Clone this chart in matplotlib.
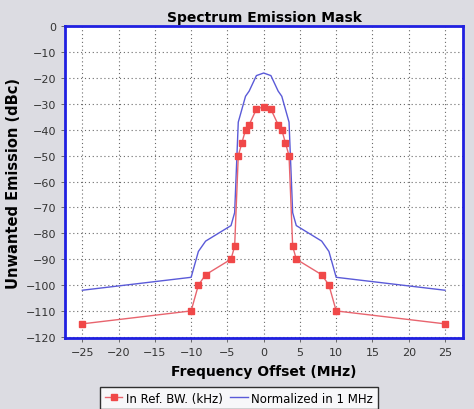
import matplotlib
matplotlib.use('Agg')
import matplotlib.pyplot as plt

# frequency offsets (MHz)
freq = [-25, -10, -9, -8, -4.5, -4, -3.5, -3, -2.5, -2, -1, 0,
        1, 2, 2.5, 3, 3.5, 4, 4.5, 8, 9, 10, 25]
# emission in reference bandwidth (dBc)
ref_bw = [-115, -110, -100, -96, -90, -85, -50, -45, -40, -38, -32, -31,
          -32, -38, -40, -45, -50, -85, -90, -96, -100, -110, -115]
# normalized to 1 MHz (dBc)
norm_1mhz = [-102, -97, -87, -83, -77, -72, -37, -32, -27, -25, -19, -18,
             -19, -25, -27, -32, -37, -72, -77, -83, -87, -97, -102]

xticks = [-25, -20, -15, -10, -5, 0, 5, 10, 15, 20, 25]
yticks = list(range(0, -121, -10))

bg = '#dcdce2'
fig = plt.figure(figsize=(4.74, 4.10), dpi=100, facecolor=bg)
ax = fig.add_axes([0.137, 0.173, 0.84, 0.76])
ax.set_facecolor('white')

ax.plot(freq, ref_bw, color='#e8646e', lw=1.0, marker='s', ms=5,
        mfc='#f04848', mec='#f04848', label='In Ref. BW. (kHz)', zorder=3)
ax.plot(freq, norm_1mhz, color='#5a5ad8', lw=1.0,
        label='Normalized in 1 MHz', zorder=2)

ax.set_xlim(-27.4, 27.5)
ax.set_ylim(-120.5, 0)
ax.set_xticks(xticks)
ax.set_yticks(yticks)
ax.grid(True, color='#6a6a6a', linestyle=(0, (1, 2.5)), lw=0.8)
for s in ax.spines.values():
    s.set_color('#2020e0')
    s.set_linewidth(2)
ax.tick_params(labelsize=8, colors='#555555', length=3, width=0.6,
               labelcolor='#333333')

ax.set_title('Spectrum Emission Mask', fontsize=10, fontweight='heavy', pad=4)
ax.set_xlabel('Frequency Offset (MHz)', fontsize=10, fontweight='heavy', labelpad=5)
ax.set_ylabel('Unwanted Emission (dBc)', fontsize=10.5, fontweight='heavy', labelpad=3)

leg = fig.legend(loc='lower center', bbox_to_anchor=(0.504, -0.015), ncol=2,
                 fontsize=8.5, frameon=True, fancybox=False, handlelength=1.5,
                 handletextpad=0.3, columnspacing=0.6, borderpad=0.4,
                 markerscale=0.8)
leg.get_frame().set_edgecolor('black')
leg.get_frame().set_linewidth(1.0)

fig.savefig('out.png', dpi=100, facecolor=bg)
